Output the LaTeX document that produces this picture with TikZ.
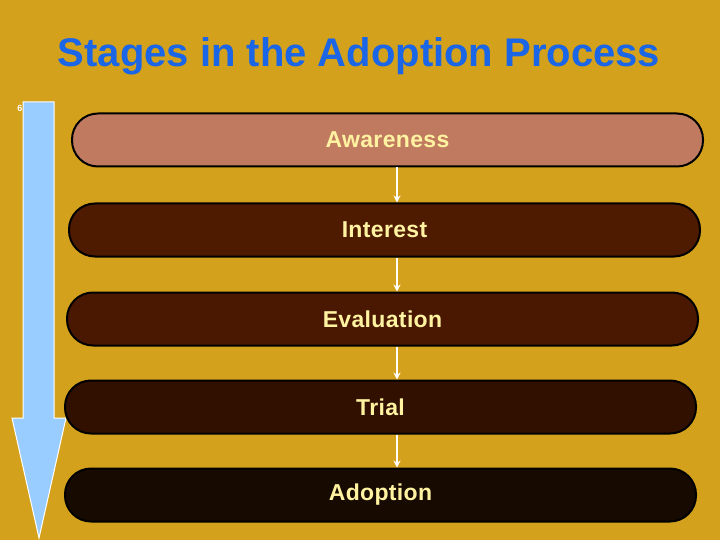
\documentclass[tikz,border=0pt]{standalone}
\usepackage{fontspec}
\setmainfont{Liberation Sans}
\usetikzlibrary{arrows.meta}

\definecolor{slidebg}{HTML}{D4A11C}
\definecolor{titleblue}{HTML}{1A66E6}
\definecolor{labelyellow}{HTML}{FFF2A0}
\definecolor{timeblue}{HTML}{99CCFF}
\definecolor{stageA}{HTML}{C07A60}
\definecolor{stageB}{HTML}{4E1A00}
\definecolor{stageC}{HTML}{4A1800}
\definecolor{stageD}{HTML}{321000}
\definecolor{stageE}{HTML}{170A00}

\tikzset{
  stagebox/.style={draw=black, line width=2pt, rounded corners=26pt,
    minimum width=631pt, minimum height=53pt,
    text=labelyellow, font=\bfseries\fontsize{23}{26}\selectfont\addfontfeatures{LetterSpace=1.5}},
  stagearrow/.style={draw=white, line width=2pt, -{Stealth[length=7pt,width=7pt]}}
}

\begin{document}
\begin{tikzpicture}[x=1pt,y=-1pt]

\def\timearrow{(23,102) -- (54,102) -- (54,418) -- (66,418) -- (39,538) -- (12,418) -- (23,418) -- cycle}

\useasboundingbox[fill=slidebg] (0,0) rectangle (720,540);

\node[text=titleblue, font=\bfseries\fontsize{40}{44}\selectfont] (title) at (359,56) {Stages in the Adoption Process};

\fill[timeblue, draw=white, line width=1pt] \timearrow;
\node[text=white, font=\bfseries\fontsize{9}{10}\selectfont] (num) at (20,108) {6};

\node[stagebox, fill=stageA] (awareness) at (387.5,140) {Awareness};
\node[stagebox, fill=stageB] (interest) at (384.5,230) {Interest};
\node[stagebox, fill=stageC] (evaluation) at (382.5,319) {Evaluation};
\node[stagebox, fill=stageD] (trial) at (380.5,407) {Trial};
\node[stagebox, fill=stageE] (adoption) at (380.5,495) {Adoption};

\coordinate (ax) at (397,0);
\draw[stagearrow] (awareness.south -| ax) -- (interest.north -| ax);
\draw[stagearrow] (interest.south -| ax) -- (evaluation.north -| ax);
\draw[stagearrow] (evaluation.south -| ax) -- (trial.north -| ax);
\draw[stagearrow] (trial.south -| ax) -- (adoption.north -| ax);

\end{tikzpicture}
\end{document}
